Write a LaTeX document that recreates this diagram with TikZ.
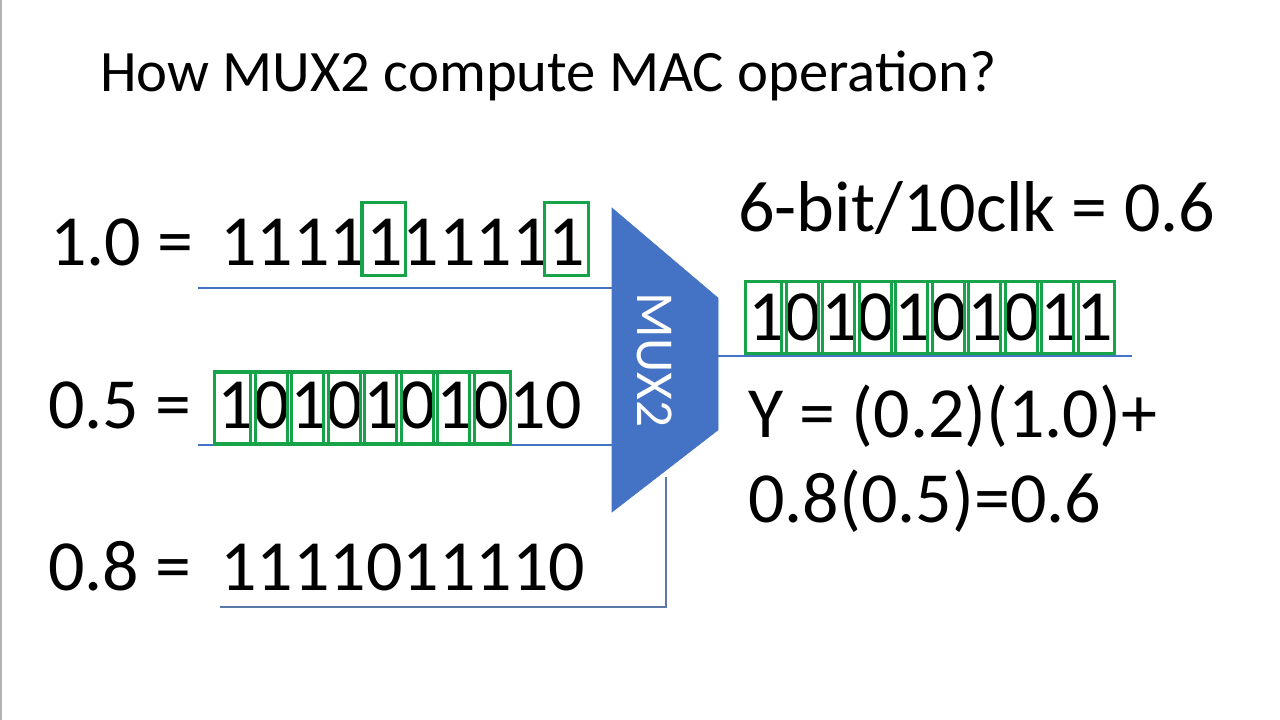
\documentclass[tikz,border=0pt]{standalone}
\usepackage{fontspec}
\setmainfont{Carlito}
\definecolor{wblue}{HTML}{4472C4}
\definecolor{bgreen}{HTML}{16A34A}
\tikzset{big/.style={font=\fontsize{54}{60}\selectfont,inner sep=0,anchor=base west},
wire/.style={draw=wblue,line width=2pt},
bitbox/.style={draw=bgreen,line width=2.3pt}}
\begin{document}
\begin{tikzpicture}[x=0.75pt,y=-0.75pt]
\useasboundingbox (0,0) rectangle (1280,720);
\draw[gray!60,line width=1pt] (1,0) -- (1,720);
\node[font=\fontsize{44}{50}\selectfont,inner sep=0,anchor=base west] (title) at (100,92) {How MUX2 compute MAC operation?};
\node[big] (l1) at (50,265) {1.0 =};
\node[big] (l2) at (48,428) {0.5 =};
\node[big] (l3) at (48,590) {0.8 =};
% mux
\filldraw[fill=wblue,draw=wblue] (612,208) coordinate (m1) -- (718,298) coordinate (m2) -- (718,430) coordinate (m3) -- (612,512) coordinate (m4) -- cycle;
\node[rotate=-90,text=white,font=\fontsize{40}{44}\selectfont,inner sep=0] (mux) at (655,360) {MUX2};
\coordinate (a1) at (198,288); \coordinate (b1) at (612,288);
\coordinate (a2) at (198,445); \coordinate (b2) at (612,445);
\coordinate (a3) at (220,607); \coordinate (c3) at (666,607); \coordinate (b3) at (666,477);
\coordinate (o1) at (718,356); \coordinate (o2) at (1132,356);
\draw[wire] (a1) -- (b1);
\draw[wire] (a2) -- (b2);
\draw[wire,line width=1pt,draw=wblue!60!gray] (a3) -- (c3) -- (b3);
\draw[wire] (o1) -- (o2);
% bit strings
\foreach \d [count=\i from 0] in {1,1,1,1,1,1,1,1,1,1} \node[big] (t\i) at (220+36.5*\i,265) {\d};
\foreach \d [count=\i from 0] in {1,0,1,0,1,0,1,0,1,0} \node[big] (m\i) at (217+36.5*\i,428) {\d};
\foreach \d [count=\i from 0] in {1,1,1,1,0,1,1,1,1,0} \node[big] (b\i) at (220+36.5*\i,590) {\d};
\foreach \d [count=\i from 0] in {1,0,1,0,1,0,1,0,1,1} \node[big] (r\i) at (748+36.5*\i,340) {\d};
\foreach \i in {4,9} \draw[bitbox] ([xshift=-3pt,yshift=-8pt]t\i.base west) rectangle ([xshift=2pt,yshift=47pt]t\i.base east);
\foreach \i in {0,...,7} \draw[bitbox] ([xshift=-2pt,yshift=-12pt]m\i.base west) rectangle ([xshift=1pt,yshift=42pt]m\i.base east);
\foreach \i in {0,...,9} \draw[bitbox] ([xshift=-2pt,yshift=-10pt]r\i.base west) rectangle ([xshift=1pt,yshift=44pt]r\i.base east);
% right texts
\node[big] (rate) at (738,232) {6-bit/10clk = 0.6};
\node[big] (y1) at (748,437) {Y = (0.2)(1.0)+};
\node[big] (y2) at (748,522) {0.8(0.5)=0.6};
\end{tikzpicture}
\end{document}
